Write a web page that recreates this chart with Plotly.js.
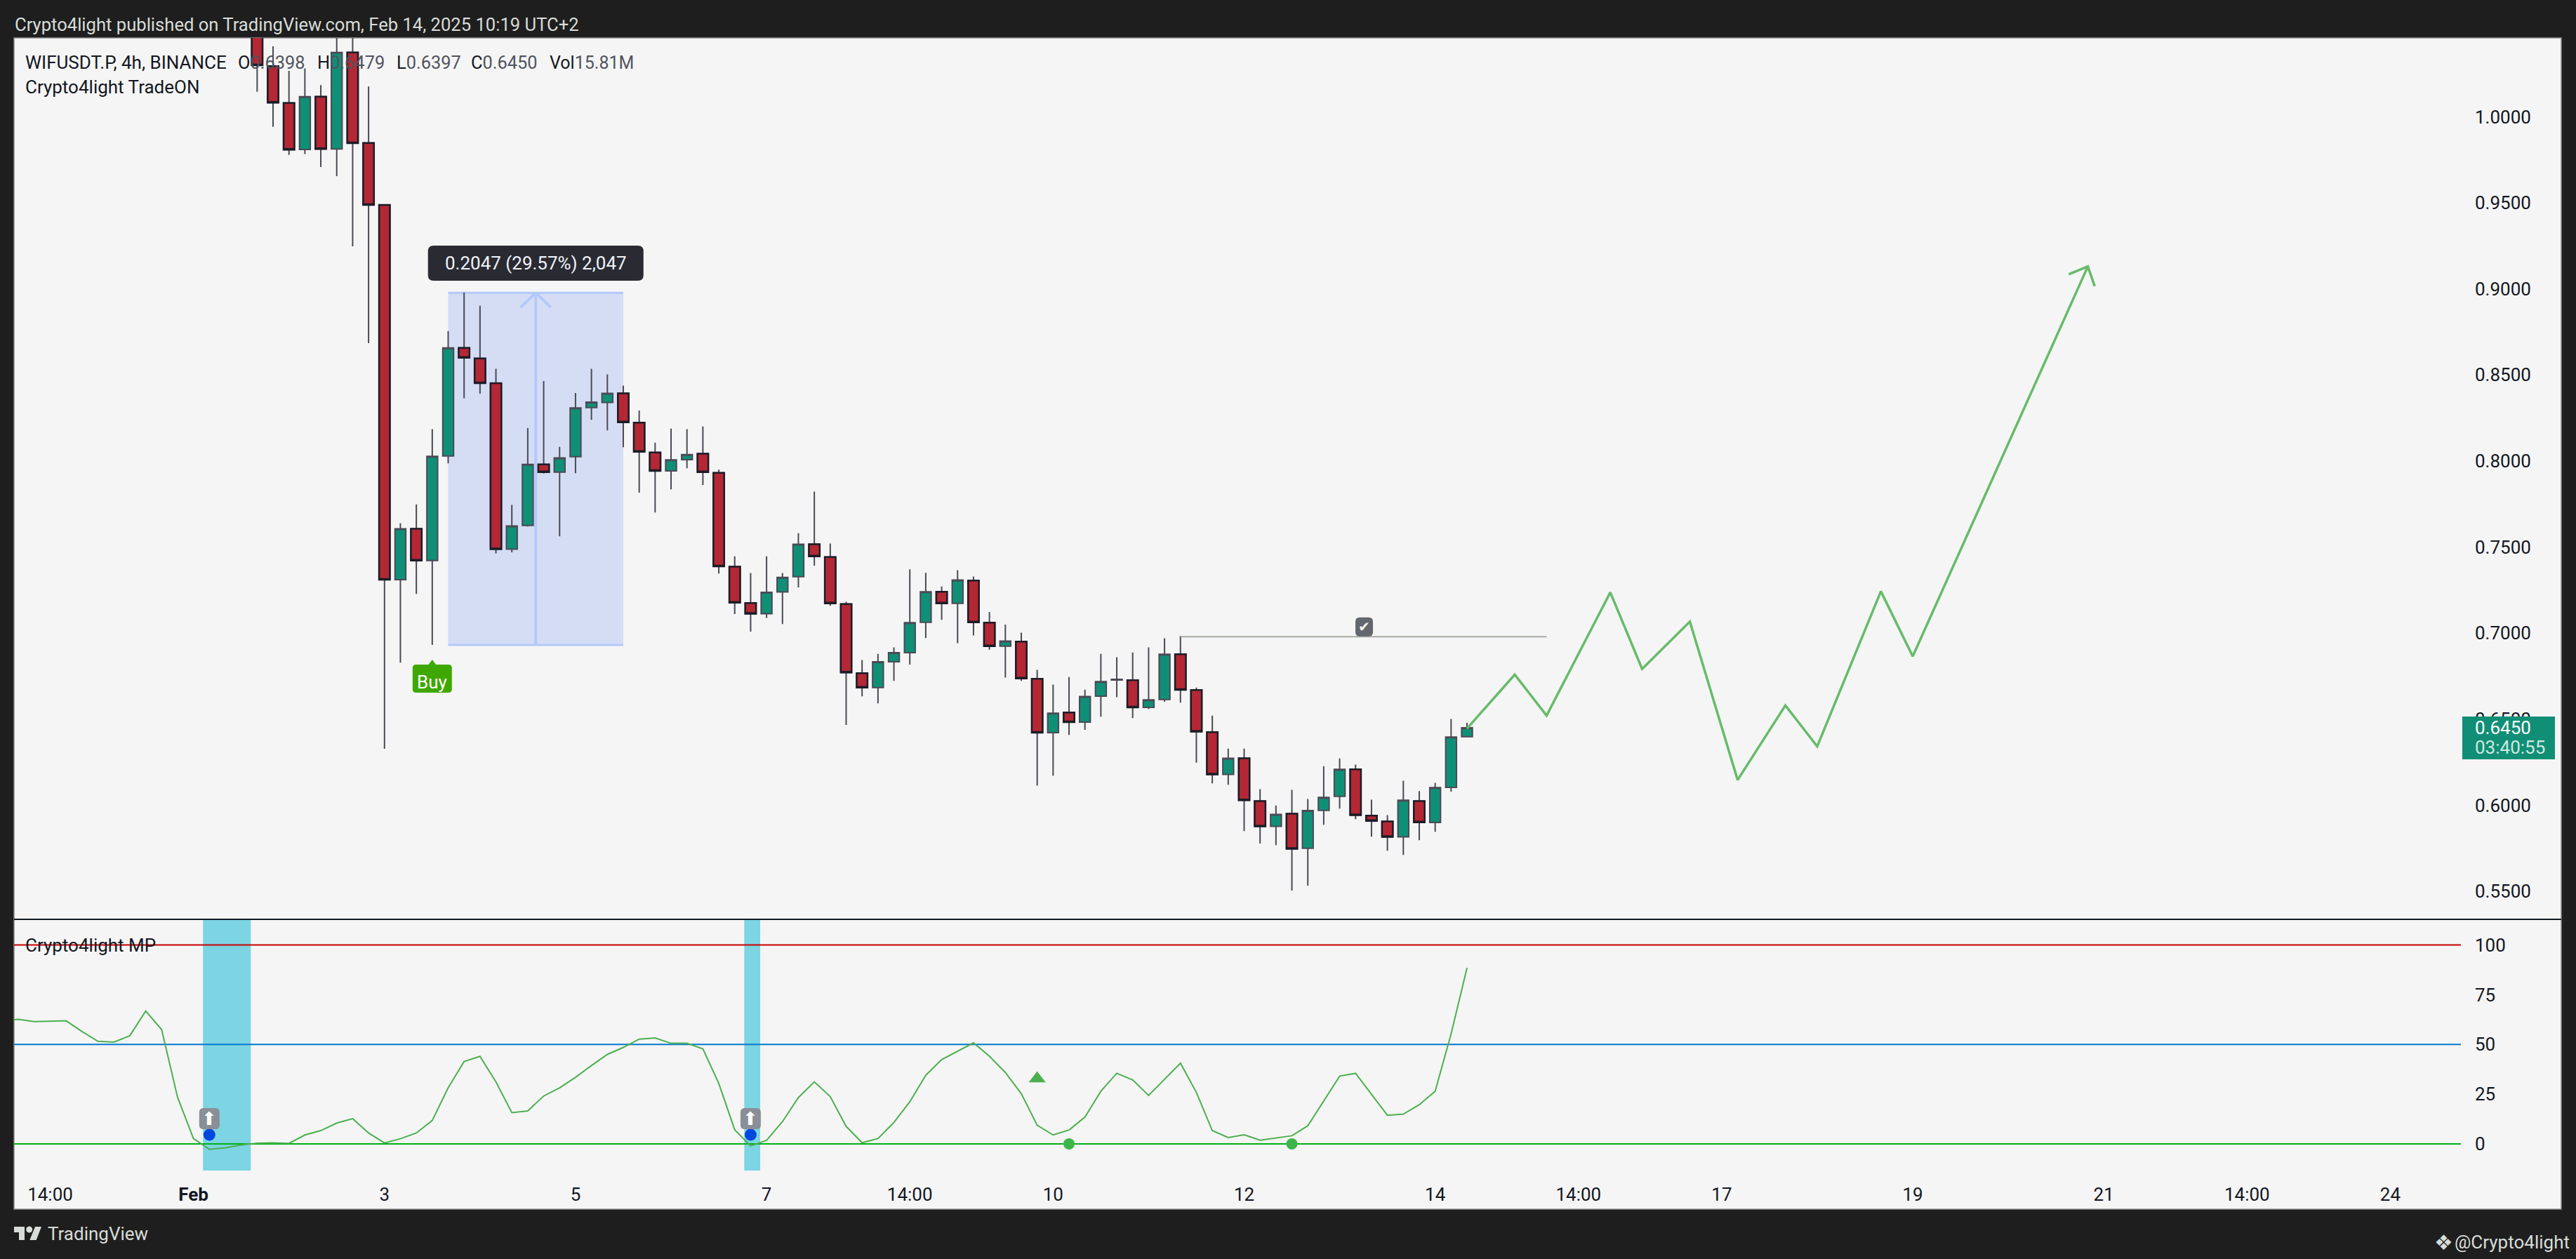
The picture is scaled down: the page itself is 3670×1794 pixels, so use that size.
<!DOCTYPE html>
<html><head><meta charset="utf-8">
<script src="https://cdn.plot.ly/plotly-3.0.1.min.js"></script>
<style>html,body{margin:0;padding:0;background:#1e1e1e}#c{width:3670px;height:1794px}</style>
</head><body><div id="c"></div>
<script>
// ---- candle data (4h bars) ----
const barTimes = [
"2025-02-01 18:00","2025-02-01 22:00",
"2025-02-02 02:00","2025-02-02 06:00","2025-02-02 10:00","2025-02-02 14:00","2025-02-02 18:00","2025-02-02 22:00",
"2025-02-03 02:00","2025-02-03 06:00","2025-02-03 10:00","2025-02-03 14:00","2025-02-03 18:00","2025-02-03 22:00",
"2025-02-04 02:00","2025-02-04 06:00","2025-02-04 10:00","2025-02-04 14:00","2025-02-04 18:00","2025-02-04 22:00",
"2025-02-05 02:00","2025-02-05 06:00","2025-02-05 10:00","2025-02-05 14:00","2025-02-05 18:00","2025-02-05 22:00",
"2025-02-06 02:00","2025-02-06 06:00","2025-02-06 10:00","2025-02-06 14:00","2025-02-06 18:00","2025-02-06 22:00",
"2025-02-07 02:00","2025-02-07 06:00","2025-02-07 10:00","2025-02-07 14:00","2025-02-07 18:00","2025-02-07 22:00",
"2025-02-08 02:00","2025-02-08 06:00","2025-02-08 10:00","2025-02-08 14:00","2025-02-08 18:00","2025-02-08 22:00",
"2025-02-09 02:00","2025-02-09 06:00","2025-02-09 10:00","2025-02-09 14:00","2025-02-09 18:00","2025-02-09 22:00",
"2025-02-10 02:00","2025-02-10 06:00","2025-02-10 10:00","2025-02-10 14:00","2025-02-10 18:00","2025-02-10 22:00",
"2025-02-11 02:00","2025-02-11 06:00","2025-02-11 10:00","2025-02-11 14:00","2025-02-11 18:00","2025-02-11 22:00",
"2025-02-12 02:00","2025-02-12 06:00","2025-02-12 10:00","2025-02-12 14:00","2025-02-12 18:00","2025-02-12 22:00",
"2025-02-13 02:00","2025-02-13 06:00","2025-02-13 10:00","2025-02-13 14:00","2025-02-13 18:00","2025-02-13 22:00",
"2025-02-14 02:00","2025-02-14 06:00","2025-02-14 10:00"];
const opens = [1.0600,1.0295,1.0081,.9811,1.0117,.9814,1.0374,.9848,
.9488,.7311,.7606,.7422,.8030,.8658,.8596,.8453,.7488,.7626,.7981,.7936,.8025,.8311,.8340,.8393,.8223,.8050,.7943,.8008,.8043,.7932,.7386,.7175,.7113,.7239,.7328,.7517,.7442,.7169,.6767,
.6684,.6834,.6887,.7063,.7240,.7173,.7306,.7061,.6924,.6951,.6735,.6422,.6539,.6483,.6634,.6728,.6727,.6569,.6614,.6877,.6669,.6425,.6179,.6273,.6024,.5877,.5951,.5750,.5970,.6052,.6209,.5940,.5906,.5816,.6024,.5900,.6104,.6398];
const highs = [1.0700,1.0410,1.0267,1.0282,1.0185,1.0650,1.0600,1.0177,
.9490,.7639,.7748,.8185,.8755,.8980,.8902,.8536,.7745,.8192,.8465,.8083,.8396,.8536,.8504,.8438,.8294,.8107,.8189,.8185,.8201,.7950,.7446,.7350,.7446,.7350,.7581,.7823,.7521,.7182,.6844,
.6880,.6917,.7371,.7351,.7271,.7366,.7329,.7123,.7050,.7003,.6787,.6701,.6745,.6672,.6880,.6860,.6888,.6917,.6970,.6983,.6684,.6521,.6329,.6329,.6093,.5999,.6089,.6036,.6227,.6272,.6236,.6032,.5943,.6142,.6082,.6130,.6501,.6479];
const lows = [1.0146,.9942,.9779,.9784,.9709,.9656,.9248,.8685,
.6328,.6829,.7228,.6931,.7987,.8365,.8391,.7464,.7470,.7620,.7928,.7563,.7930,.8240,.8178,.8081,.7816,.7701,.7836,.7958,.7861,.7346,.7111,.7009,.7089,.7053,.7266,.7392,.7159,.6467,.6633,
.6592,.6722,.6817,.6971,.7077,.6942,.6987,.6904,.6742,.6722,.6114,.6172,.6409,.6438,.6515,.6628,.6506,.6559,.6601,.6596,.6247,.6127,.6119,.5850,.5777,.5768,.5504,.5533,.5887,.5980,.5919,.5817,.5736,.5711,.5797,.5846,.6079,.6397];
const closes = [1.0300,1.0083,.9810,1.0117,.9814,1.0374,.9847,.9488,
.7311,.7606,.7422,.8027,.8658,.8600,.8453,.7488,.7623,.7981,.7936,.8018,.8309,.8342,.8393,.8225,.8054,.7943,.8007,.8038,.7936,.7388,.7177,.7113,.7237,.7324,.7517,.7446,.7173,.6771,.6684,
.6834,.6887,.7061,.7240,.7173,.7309,.7063,.6924,.6954,.6737,.6422,.6535,.6483,.6632,.6718,.6732,.6569,.6612,.6877,.6671,.6428,.6179,.6273,.6029,.5877,.5947,.5747,.5969,.6046,.6209,.5943,.5909,.5816,.6029,.5901,.6103,.6396,.6450];
// ---- oscillator ----
const earlierTimes = ["2025-01-30 02:00","2025-01-30 06:00","2025-01-30 10:00","2025-01-30 14:00","2025-01-30 18:00","2025-01-30 22:00",
"2025-01-31 02:00","2025-01-31 06:00","2025-01-31 10:00","2025-01-31 14:00","2025-01-31 18:00","2025-01-31 22:00",
"2025-02-01 02:00","2025-02-01 06:00","2025-02-01 10:00","2025-02-01 14:00"];
const oscValues = [62.2,62.6,61.5,61.8,61.9,56.5,51.6,51.2,54.4,66.8,57.5,
23.5,2.7,-2.7,-1.9,-0.5,0.4,0.5,0.3,4.5,6.7,
10.5,12.7,5.5,0.5,2.6,5.5,11.8,28.2,41.4,44.0,
31.2,15.7,16.6,24.1,28.2,33.5,39.4,45.0,48.5,52.7,
53.3,50.6,50.6,47.8,30.4,7.1,-1.0,1.8,11.2,23.3,
31.2,23.8,8.8,0.6,2.7,10.8,21.2,34.5,42.4,46.5,
50.8,44.1,35.9,25.3,9.4,4.5,7.0,13.5,26.5,35.5,
32.2,24.4,32.4,40.6,25.9,6.7,3.2,4.6,1.9,2.9,
4.1,9.1,21.8,34.1,35.5,25.0,14.4,15.0,19.7,26.5,55.3,88.5];
const levelValues = [100,50,0];
const levelColors = ["#c80000","#0078d0","#00b015"];
const buySignalTimes = ["2025-02-01 06:00","2025-02-06 22:00"];
const buySignalDot = [4.6,4.6];
const buySignalIcon = [12.7,12.7];
const bandStarts = ["2025-02-01 04:24","2025-02-06 20:24"];
const bandEnds = ["2025-02-01 16:24","2025-02-07 00:24"];
const greenDotTimes = ["2025-02-10 06:00","2025-02-12 14:00"];
const greenDotValues = [0,0];
const triangleTimes = ["2025-02-09 22:00"];
const triangleValues = [32.8];
// ---- drawings ----
const projTimes = ["2025-02-14 10:00","2025-02-14 22:00","2025-02-15 06:00","2025-02-15 22:00","2025-02-16 06:00","2025-02-16 18:00","2025-02-17 06:00","2025-02-17 18:00","2025-02-18 02:00","2025-02-18 18:00","2025-02-19 02:00","2025-02-20 22:00"];
const projPrices = [.6446,.6759,.6521,.7237,.6792,.7067,.6147,.6580,.6342,.7243,.6865,.9131];
const headTimes = ["2025-02-20 17:12","2025-02-20 22:00","2025-02-20 23:43"];
const headPrices = [.9085,.9131,.9016];
const measureLeft = "2025-02-03 18:00", measureRight = "2025-02-05 14:00", measureMid = "2025-02-04 16:00";
const measureLow = .6931, measureHigh = .8978;
const levelLineTimes = ["2025-02-11 10:00","2025-02-15 06:00"];
const levelLinePrice = [.6979,.6979];
// ---- axes ----
const priceTicks = [.55,.6,.65,.7,.75,.8,.85,.9,.95,1];
const oscTicks = [0,25,50,75,100];
const timeTickVals = ["2025-01-30 14:00","2025-02-01 02:00","2025-02-03 02:00","2025-02-05 02:00","2025-02-07 02:00","2025-02-08 14:00","2025-02-10 02:00","2025-02-12 02:00","2025-02-14 02:00","2025-02-15 14:00","2025-02-17 02:00","2025-02-19 02:00","2025-02-21 02:00","2025-02-22 14:00","2025-02-24 02:00"];
const timeTickText = ["14:00","<b>Feb</b>","3","5","7","14:00","10","12","14","14:00","17","19","21","14:00","24"];

const W=3670,H=1794,L=20,R=3506,T=54,B=1668,PR=3649,PB=1723,SEP=1310;
const fx=p=>(p-L)/(R-L), fy=p=>(B-p)/(B-T);
const FONT="Roboto", INK="#131722", DIM="#50535e", LIGHT="#d8dcd8";

function roundPath(w,h,r){const a=w/2,b=h/2;
  return `M ${-a+r},${-b} L ${a-r},${-b} Q ${a},${-b} ${a},${-b+r} L ${a},${b-r} Q ${a},${b} ${a-r},${b} L ${-a+r},${b} Q ${-a},${b} ${-a},${b-r} L ${-a},${-b+r} Q ${-a},${-b} ${-a+r},${-b} Z`;}
function pill(xa,ya,yref,w,h,r,color){return {type:'path',xref:'x',yref:yref,xsizemode:'pixel',ysizemode:'pixel',xanchor:xa,yanchor:ya,path:roundPath(w,h,r),fillcolor:color,line:{width:0},layer:'above'};}

const shapes=[
 {type:'rect',xref:'paper',yref:'paper',x0:fx(L),x1:fx(PR),y0:fy(PB),y1:fy(T),fillcolor:'#f5f5f5',line:{color:'#8a8a8a',width:1.5},layer:'below'},
 {type:'rect',xref:'x',yref:'y',x0:measureLeft,x1:measureRight,y0:measureLow,y1:measureHigh,fillcolor:'#d5ddf5',line:{width:0},layer:'below'},
 {type:'line',xref:'x',yref:'y',x0:measureLeft,x1:measureRight,y0:measureLow,y1:measureLow,line:{color:'#b2c9fb',width:3},layer:'below'},
 {type:'line',xref:'x',yref:'y',x0:measureLeft,x1:measureRight,y0:measureHigh,y1:measureHigh,line:{color:'#b2c9fb',width:3},layer:'below'},
 {type:'line',xref:'x',yref:'y',x0:measureMid,x1:measureMid,y0:measureLow,y1:measureHigh,line:{color:'#b2c9fb',width:4},layer:'below'},
 {type:'line',xref:'x',yref:'y',x0:"2025-02-04 12:12",x1:measureMid,y0:.8893,y1:measureHigh,line:{color:'#b2c9fb',width:4},layer:'below'},
 {type:'line',xref:'x',yref:'y',x0:"2025-02-04 19:48",x1:measureMid,y0:.8893,y1:measureHigh,line:{color:'#b2c9fb',width:4},layer:'below'},
 {type:'line',xref:'paper',yref:'paper',x0:fx(L),x1:fx(PR),y0:fy(SEP),y1:fy(SEP),line:{color:'#131722',width:2},layer:'above'},
 // labels with rounded corners
 pill(measureMid,.915,'y',307,50,8,'#2a2b32'),
 pill("2025-02-03 14:00",.6736,'y',56,40,5,'#3fa800'),
 pill("2025-02-13 08:10",.7037,'y',25,27,6,'#62666d'),
 {type:'rect',xref:'paper',yref:'paper',x0:fx(3508),x1:fx(3640),y0:fy(1082),y1:fy(1021),fillcolor:'#118f76',line:{width:0},layer:'above'},
];
bandStarts.forEach((s,i)=>shapes.push({type:'rect',xref:'x',yref:'y2 domain',x0:s,x1:bandEnds[i],y0:0,y1:1,fillcolor:'#7dd4e2',line:{width:0},layer:'below'}));
buySignalTimes.forEach((t,i)=>shapes.push(pill(t,buySignalIcon[i],'y2',29,30,6,'#8a8e96')));

// TradingView logo as paper paths
const pp=(pts)=>'M '+pts.map(p=>fx(p[0])+','+fy(p[1])).join(' L ')+' Z';
[[[20,1748],[35,1748],[35,1767],[27,1767],[27,1756],[20,1756]],
 [[50,1748],[59,1748],[51.7,1767],[42.3,1767]]].forEach(a=>shapes.push({type:'path',xref:'paper',yref:'paper',path:pp(a),fillcolor:LIGHT,line:{width:0},layer:'above'}));
shapes.push({type:'circle',xref:'paper',yref:'paper',x0:fx(37.2),x1:fx(46.2),y0:fy(1756.5),y1:fy(1747.5),fillcolor:LIGHT,line:{width:0},layer:'above'});

function ptext(t,px,py,size,color,anchor,family){return {text:t,xref:'paper',yref:'paper',x:fx(px),y:fy(py),xanchor:anchor||'left',yanchor:'middle',showarrow:false,borderpad:0,font:{family:family||FONT,size:size,color:color}};}
const annotations=[
 ptext("Crypto4light published on TradingView.com, Feb 14, 2025 10:19 UTC+2",20,35,25.6,LIGHT),
 ptext("WIFUSDT.P, 4h, BINANCE",35,89,26,INK),
 ptext('O<span style="color:'+DIM+'">0.6398</span>',338,89,25.4,INK),
 ptext('H<span style="color:'+DIM+'">0.6479</span>',451,89,25.4,INK),
 ptext('L<span style="color:'+DIM+'">0.6397</span>',564,89,25.4,INK),
 ptext('C<span style="color:'+DIM+'">0.6450</span>',670,89,25.4,INK),
 ptext('Vol<span style="color:'+DIM+'">15.81M</span>',782,89,25,INK),
 ptext("Crypto4light TradeON",35,124,26,INK),
 ptext("Crypto4light MP",35,1347,26,INK),
 ptext("TradingView",67,1758,26,LIGHT),
 ptext("@Crypto4light",3496,1770,26,LIGHT),
 ptext("❖",3467,1770,30,LIGHT,'left','DejaVu Sans'),
 ptext("0.6450",3525,1037,26,'#ffffff'),
 ptext("03:40:55",3525,1065,26,'#cfe8e0'),
 {text:"0.2047 (29.57%) 2,047",xref:'x',yref:'y',x:measureMid,y:.915,showarrow:false,font:{family:FONT,size:26,color:'#f0f3fa'}},
 {text:"Buy",xref:'x',yref:'y',x:"2025-02-03 14:00",y:.6715,showarrow:false,font:{family:FONT,size:26,color:'#ffffff'}},
 {text:"✔",xref:'x',yref:'y',x:"2025-02-13 08:10",y:.7037,showarrow:false,font:{family:'DejaVu Sans',size:20,color:'#eef2ee'}},
];
buySignalTimes.forEach((t,i)=>annotations.push({text:"⬆",xref:'x',yref:'y2',x:t,y:buySignalIcon[i],showarrow:false,font:{family:'DejaVu Sans',size:26,color:'#ffffff'}}));

const redIdx=opens.map((o,i)=>closes[i]<o?i:-1).filter(i=>i>=0);
const traces=[
 {type:'candlestick',xaxis:'x',yaxis:'y',x:barTimes,open:opens,high:highs,low:lows,close:closes,whiskerwidth:0,hoverinfo:'skip',showlegend:false,
  increasing:{line:{color:'#4a4a55',width:2},fillcolor:'#108f77'},decreasing:{line:{color:'#4a4a55',width:2},fillcolor:'#b32834'}},
 {type:'candlestick',xaxis:'x',yaxis:'y',x:redIdx.map(i=>barTimes[i]),open:redIdx.map(i=>opens[i]),high:redIdx.map(i=>opens[i]),low:redIdx.map(i=>closes[i]),close:redIdx.map(i=>closes[i]),whiskerwidth:0,hoverinfo:'skip',showlegend:false,
  increasing:{line:{color:'#1c1c28',width:2.5},fillcolor:'#b32834'},decreasing:{line:{color:'#1c1c28',width:2.5},fillcolor:'#b32834'}},
 {type:'scatter',mode:'lines',xaxis:'x',yaxis:'y',x:levelLineTimes,y:levelLinePrice,line:{color:'#a4aaa2',width:2},hoverinfo:'skip',showlegend:false},
 {type:'scatter',mode:'lines',xaxis:'x',yaxis:'y',x:projTimes,y:projPrices,line:{color:'#66bb6a',width:3.5},hoverinfo:'skip',showlegend:false},
 {type:'scatter',mode:'lines',xaxis:'x',yaxis:'y',x:headTimes,y:headPrices,line:{color:'#66bb6a',width:3.5},hoverinfo:'skip',showlegend:false},
 {type:'scatter',mode:'markers',xaxis:'x',yaxis:'y',x:["2025-02-03 14:00"],y:[.6825],marker:{symbol:'triangle-up',size:10,color:'#3fa800'},hoverinfo:'skip',showlegend:false},
];
levelValues.forEach((v,i)=>traces.push({type:'scatter',mode:'lines',xaxis:'x',yaxis:'y2',x:["2025-01-30 04:55","2025-02-24 19:44"],y:[v,v],line:{color:levelColors[i],width:2},hoverinfo:'skip',showlegend:false}));
traces.push(
 {type:'scatter',mode:'lines',xaxis:'x',yaxis:'y2',x:earlierTimes.concat(barTimes),y:oscValues,line:{color:'#4caf50',width:2},hoverinfo:'skip',showlegend:false},
 {type:'scatter',mode:'markers',xaxis:'x',yaxis:'y2',x:buySignalTimes,y:buySignalDot,marker:{symbol:'circle',size:17,color:'#0047e0'},hoverinfo:'skip',showlegend:false},
 {type:'scatter',mode:'markers',xaxis:'x',yaxis:'y2',x:greenDotTimes,y:greenDotValues,marker:{symbol:'circle',size:16,color:'#3db54a'},hoverinfo:'skip',showlegend:false},
 {type:'scatter',mode:'markers',xaxis:'x',yaxis:'y2',x:triangleTimes,y:triangleValues,marker:{symbol:'triangle-up',size:21,color:'#4caf50'},hoverinfo:'skip',showlegend:false}
);

const tickFont={family:FONT,size:26,color:INK};
const sep=(B-SEP)/(B-T);
const layout={width:W,height:H,margin:{l:L,r:W-R,t:T,b:H-B,pad:0},paper_bgcolor:'#1e1e1e',plot_bgcolor:'rgba(0,0,0,0)',
 font:{family:FONT},showlegend:false,hovermode:false,boxgap:.32,boxgroupgap:0,
 xaxis:{type:'date',domain:[0,1],anchor:'y2',range:["2025-01-30 04:55","2025-02-24 19:44"],tickmode:'array',tickvals:timeTickVals,ticktext:timeTickText,tickangle:0,
  showgrid:false,zeroline:false,showline:false,ticks:'',tickfont:tickFont,ticklabelstandoff:16,rangeslider:{visible:false}},
 yaxis:{domain:[sep,1],anchor:'x',side:'right',range:[.5337,1.0459],tickmode:'array',tickvals:priceTicks,ticktext:priceTicks.map(v=>v.toFixed(4)),showgrid:false,zeroline:false,showline:false,ticks:'',tickfont:tickFont,ticklabelstandoff:19},
 yaxis2:{domain:[0,sep],anchor:'x',side:'right',range:[-13.4,112.9],tickmode:'array',tickvals:oscTicks,ticktext:oscTicks.map(String),showgrid:false,zeroline:false,showline:false,ticks:'',tickfont:tickFont,ticklabelstandoff:19},
 shapes:shapes,annotations:annotations};
Plotly.newPlot('c',traces,layout,{staticPlot:true,displayModeBar:false});
</script></body></html>
